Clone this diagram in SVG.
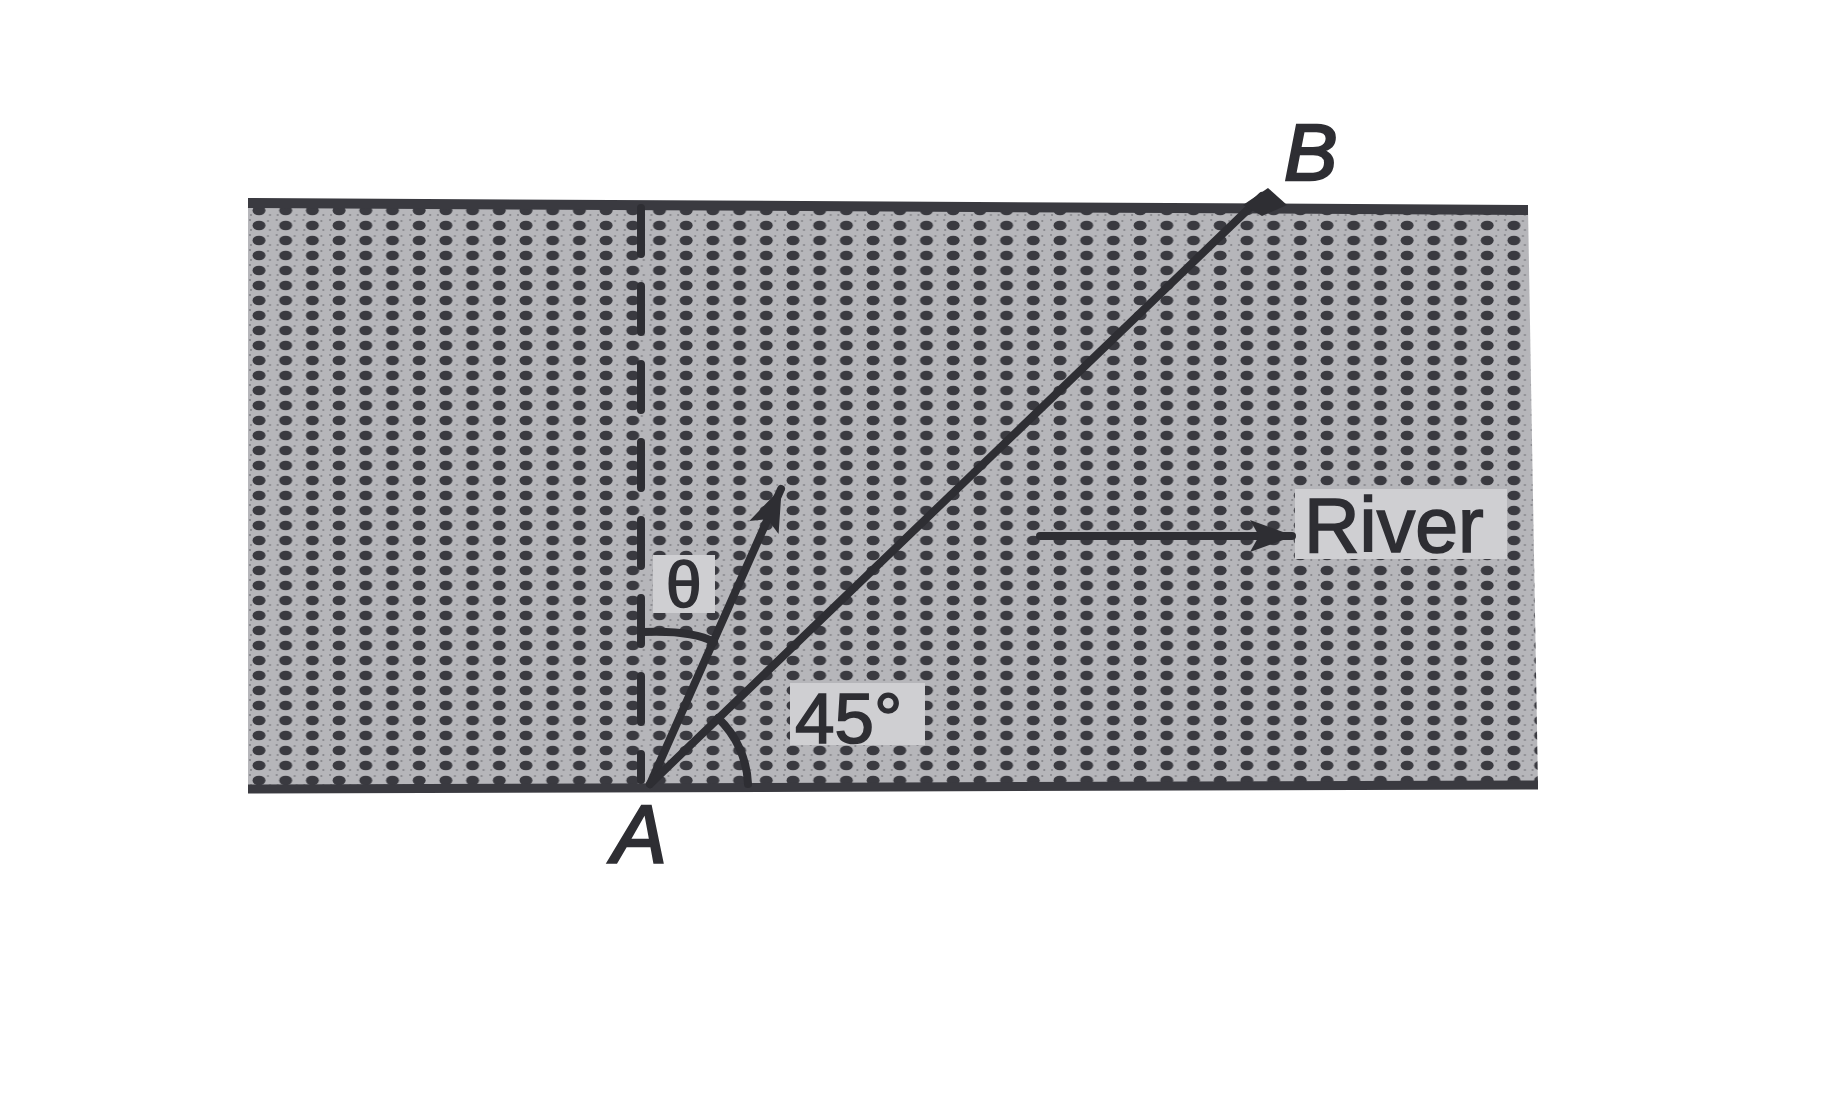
<svg xmlns="http://www.w3.org/2000/svg" width="1840" height="1112" viewBox="0 0 1840 1112">
<style>
.ln{stroke:#2e2e33;stroke-width:8;fill:none;stroke-linecap:round}
.lbl{font-family:"Liberation Sans",Arial,sans-serif;fill:#2e2e33;stroke:#2e2e33;stroke-width:1.6}
.it{font-style:italic;stroke-width:2.5}
.box{fill:#cfcfd2}
</style>
<defs>
<pattern id="dots" patternUnits="userSpaceOnUse" x="248" y="203" width="26.7" height="15">
<rect width="26.7" height="15" fill="#b6b6ba"/>
<circle cx="2" cy="2" r="1.1" fill="#85858a"/>
<circle cx="20" cy="3" r="1.1" fill="#85858a"/>
<circle cx="3" cy="12" r="1.1" fill="#85858a"/>
<circle cx="22" cy="12" r="1.1" fill="#85858a"/>
<ellipse cx="11" cy="7.5" rx="6.5" ry="4.8" fill="#3a3a40"/>
</pattern>
<marker id="ah" markerUnits="userSpaceOnUse" viewBox="0 0 44 32" refX="42" refY="16" markerWidth="44" markerHeight="32" orient="auto">
<path d="M0,0 L44,16 L0,32 L9,16 Z" fill="#2e2e33"/>
</marker>
</defs>
<rect width="1840" height="1112" fill="#ffffff"/>
<g id="river">
<polygon points="248,201 1528,208 1538,787 248,789" fill="url(#dots)"/>
<line x1="248" y1="203" x2="1528" y2="210" stroke="#3a3a40" stroke-width="10"/>
<line x1="248" y1="789" x2="1538" y2="785" stroke="#3a3a40" stroke-width="9"/>
</g>
<g id="labels-boxes">
<rect class="box" x="653" y="555" width="62" height="58"/>
<rect class="box" x="790" y="683" width="135" height="62"/>
<rect class="box" x="1295" y="489" width="212" height="70"/>
</g>
<g id="connectors">
<line class="ln" x1="641" y1="208" x2="641" y2="780" stroke-dasharray="46 32" stroke-linecap="butt"/>
<line class="ln" x1="650" y1="784" x2="781" y2="489" marker-end="url(#ah)"/>
<line class="ln" x1="650" y1="784" x2="1262" y2="196"/>
<path d="M1243,205 L1268,188 L1287,205 L1262,216 Z" fill="#2e2e33"/>
<line class="ln" x1="1040" y1="536" x2="1292" y2="536" stroke-width="6" marker-end="url(#ah)"/>
<path class="ln" d="M643,632 Q692,630 714,642" stroke-width="6"/>
<path class="ln" d="M718,718 A96,96 0 0 1 748,784" stroke-width="6"/>
</g>
<g id="text">
<text class="lbl it" x="612" y="862" font-size="82">A</text>
<text class="lbl it" x="1284" y="180" font-size="80">B</text>
<text class="lbl" x="666" y="607" font-size="64">θ</text>
<text class="lbl" x="795" y="743" font-size="71">45°</text>
<text class="lbl" x="1304" y="552" font-size="77">River</text>
</g>
</svg>
